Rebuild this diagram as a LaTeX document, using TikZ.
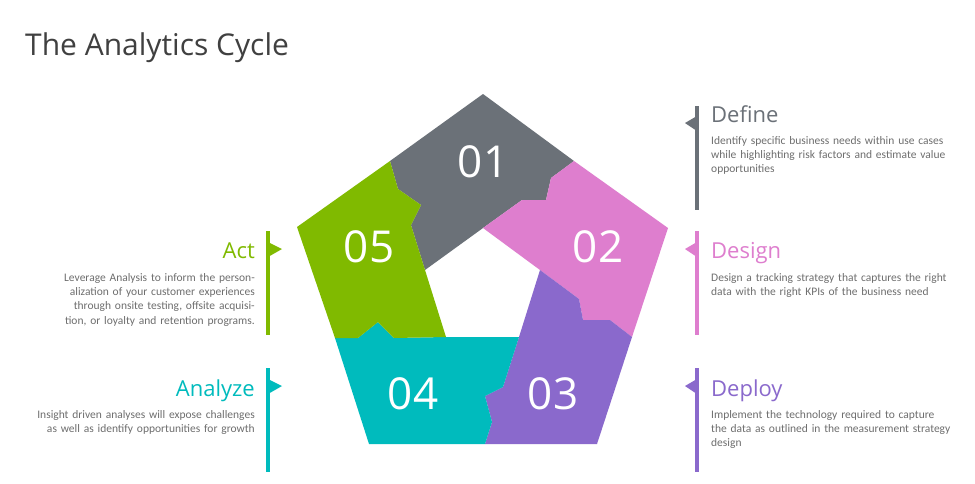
\documentclass[tikz,border=0pt]{standalone}
\usepackage{fontspec}
\setmainfont{Carlito}
\newfontfamily\headfont{Open Sans}
\definecolor{cycgray}{HTML}{6B7178}
\definecolor{cycpink}{HTML}{DE7ECE}
\definecolor{cycpurple}{HTML}{8A69CC}
\definecolor{cycteal}{HTML}{00BBBD}
\definecolor{cycgreen}{HTML}{80BA00}
\definecolor{txtgray}{HTML}{6E6E6E}
\begin{document}
\begin{tikzpicture}[x=1pt,y=-1pt,
  numsty/.style={text=white, font=\headfont\fontsize{44}{44}\selectfont, inner sep=0pt},
  headsty/.style={font=\headfont\fontsize{22}{24}\selectfont, inner sep=0pt},
  bodysty/.style={text=txtgray, font=\fontsize{11.5}{14.3}\selectfont, inner sep=0pt, text width=245pt},
  barsty/.style={line width=4pt}]

\useasboundingbox[fill=white] (0,0) rectangle (975,483);

\node[anchor=base west, text=black!75, font=\headfont\fontsize{30}{30}\selectfont, inner sep=0pt] (title) at (25,55) {The Analytics Cycle};

% pentagon pieces
\fill[cycgray] (390,161) -- (483,94) -- (574,161) -- (551,178) -- (546,200) -- (522,200) -- (483,228)
  -- (425,270) -- (411,225) -- (421,205) -- (398,189) -- cycle;
\fill[cycpink] (574,161) -- (668,228) -- (632,337) -- (610,320) -- (583,320) -- (579,299) -- (540,270)
  -- (483,228) -- (522,200) -- (546,200) -- (551,178) -- cycle;
\fill[cycpurple] (632,337) -- (597,444) -- (485,444) -- (492,422) -- (485,396) -- (503,387) -- (519,337)
  -- (540,270) -- (579,299) -- (583,320) -- (610,320) -- cycle;
\fill[cycteal] (485,444) -- (369,444) -- (335,338) -- (358,338) -- (378,322) -- (394,338) -- (446,337)
  -- (519,337) -- (503,387) -- (485,396) -- (492,422) -- cycle;
\fill[cycgreen] (335,338) -- (297,227) -- (390,161) -- (398,189) -- (421,205) -- (411,225) -- (425,270)
  -- (446,337) -- (394,338) -- (378,322) -- (358,338) -- cycle;

\node[numsty] (n01) at (483,162) {01};
\node[numsty] (n02) at (598,247) {02};
\node[numsty] (n03) at (553,394) {03};
\node[numsty] (n04) at (413,394) {04};
\node[numsty] (n05) at (369,247) {05};

% right side
\draw[barsty, cycgray] (697,106) -- (697,210);
\fill[cycgray] (697,116) -- (685,123) -- (697,131) -- cycle;
\node[headsty, text=cycgray, anchor=base west] (define) at (711,122) {Define};
\node[bodysty, anchor=north west] (definetxt) at (711,136) {Identify specific business needs within use cases while highlighting risk factors and estimate value opportunities};

\draw[barsty, cycpink] (697,231) -- (697,335);
\fill[cycpink] (697,242) -- (685,249) -- (697,257) -- cycle;
\node[headsty, text=cycpink, anchor=base west] (design) at (711,258) {Design};
\node[bodysty, anchor=north west] (designtxt) at (711,273) {Design a tracking strategy that captures the right data with the right KPIs of the business need};

\draw[barsty, cycpurple] (697,368) -- (697,472);
\fill[cycpurple] (697,379) -- (685,386) -- (697,394) -- cycle;
\node[headsty, text=cycpurple, anchor=base west] (deploy) at (711,396) {Deploy};
\node[bodysty, anchor=north west] (deploytxt) at (711,410) {Implement the technology required to capture the data as outlined in the measurement strategy design};

% left side
\draw[barsty, cycgreen] (268,231) -- (268,335);
\fill[cycgreen] (268,242) -- (282,249) -- (268,257) -- cycle;
\node[headsty, text=cycgreen, anchor=base east] (act) at (255,258) {Act};
\node[bodysty, anchor=north east, align=right] (acttxt) at (255,273) {Leverage Analysis to inform the personalization of your customer experiences through onsite testing, offsite acquisition, or loyalty and retention programs.};

\draw[barsty, cycteal] (268,368) -- (268,472);
\fill[cycteal] (268,379) -- (282,386) -- (268,394) -- cycle;
\node[headsty, text=cycteal, anchor=base east] (analyze) at (255,396) {Analyze};
\node[bodysty, anchor=north east, align=right] (analyzetxt) at (255,410) {Insight driven analyses will expose challenges as well as identify opportunities for growth};

\end{tikzpicture}
\end{document}
